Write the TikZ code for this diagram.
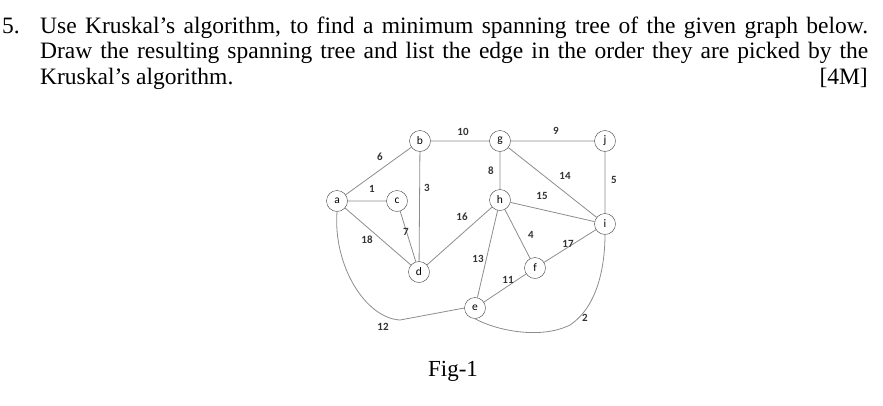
\documentclass[tikz,border=0pt]{standalone}
\usepackage{fontspec}
\setmainfont{Liberation Serif}
\newfontfamily\lab{Carlito}
\usetikzlibrary{backgrounds}
\begin{document}
\begin{tikzpicture}[x=1pt,y=-1pt,
  v/.style={circle,draw=black!75,fill=white,minimum size=21pt,inner sep=0pt,font=\lab\fontsize{11.5}{11.5}\selectfont},
  e/.style={draw=black!45,line width=0.8pt},
  w/.style={font=\lab\bfseries\fontsize{11}{11}\selectfont,text=black!80},
  t/.style={anchor=base west,inner sep=0pt,font=\fontsize{23.5}{24}\selectfont}]
\useasboundingbox (0,0) rectangle (883,405);
\node[t] (n5) at (2,33) {5.};
\node[t] (l1) at (40,33) {\makebox[828pt][s]{Use Kruskal’s algorithm, to find a minimum spanning tree of the given graph below.}};
\node[t] (l2) at (40,58) {\makebox[828pt][s]{Draw the resulting spanning tree and list the edge in the order they are picked by the}};
\node[t] (l3) at (40,84) {Kruskal’s algorithm.};
\node[t,anchor=base east] (m) at (868,84) {[4M]};
\node[v] (a) at (337,201) {a};
\node[v] (b) at (420,141) {b};
\node[v] (g) at (500,141) {g};
\node[v] (j) at (605,141) {j};
\node[v] (c) at (397,201) {c};
\node[v] (h) at (500,200) {h};
\node[v] (i) at (605,224) {i};
\node[v] (d) at (419,272) {d};
\node[v] (f) at (535,268) {f};
\node[v] (ee) at (475,308) {e};
\begin{scope}[on background layer]
\path[e] (a)--(b) (a)--(c) (a)--(d) (c)--(d) (b)--(d) (b)--(g) (g)--(j) (g)--(h) (g)--(i) (j)--(i) (h)--(i) (h)--(d) (h)--(f) (h)--(ee) (f)--(i) (f)--(ee);
\path[e] (a.south) .. controls (333,265) and (365,318) .. (400,320) -- (ee.west);
\path[e] (ee.south) .. controls (495,330) and (540,340) .. (570,325) .. controls (600,305) and (605,260) .. (i.south);
\end{scope}
\node[w] at (463,132) {10};
\node[w] at (556,131) {9};
\node[w] at (380,157) {6};
\node[w] at (491,171) {8};
\node[w] at (565,176) {14};
\node[w] at (614,180) {5};
\node[w] at (372,189) {1};
\node[w] at (427,188) {3};
\node[w] at (542,196) {15};
\node[w] at (462,217) {16};
\node[w] at (406,232) {7};
\node[w] at (531,235) {4};
\node[w] at (367,240) {18};
\node[w] at (568,244) {17};
\node[w] at (478,259) {13};
\node[w] at (508,280) {11};
\node[w] at (383,327) {12};
\node[w] at (585,318) {2};
\node[font=\fontsize{23}{24}\selectfont] (fig) at (453,371) {Fig-1};
\end{tikzpicture}
\end{document}
